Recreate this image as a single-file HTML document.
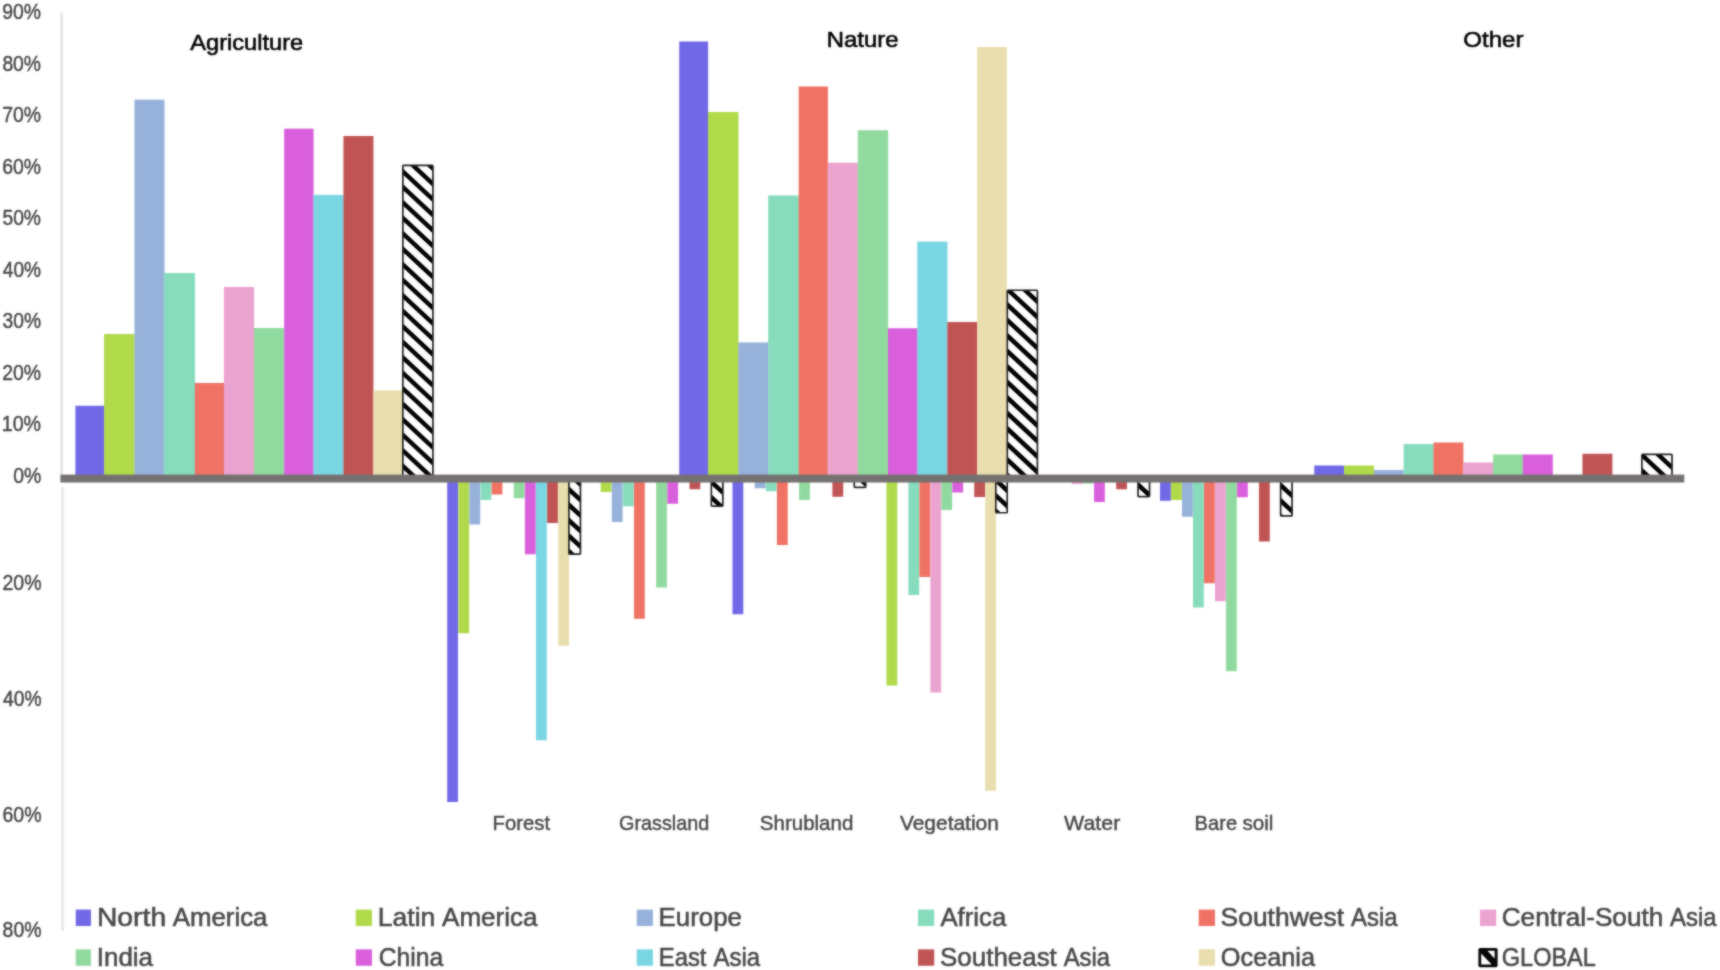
<!DOCTYPE html>
<html lang="en">
<head>
<meta charset="utf-8">
<title>Land cover change by region</title>
<style>
html,body{margin:0;padding:0;background:#fff;}
body{width:1720px;height:970px;overflow:hidden;}
svg{display:block;}
svg text{font-family:"Liberation Sans", Arial, sans-serif;}
</style>
</head>
<body>
<svg width="1720" height="970" viewBox="0 0 1720 970">
<defs>
<filter id="soft" filterUnits="userSpaceOnUse" x="0" y="0" width="1720" height="970" color-interpolation-filters="sRGB"><feGaussianBlur in="SourceGraphic" stdDeviation="0.8" result="b"/><feComposite in="SourceGraphic" in2="b" operator="arithmetic" k1="0" k2="0.45" k3="0.55" k4="0"/></filter>
</defs>
<rect width="1720" height="970" fill="#fff"/>
<g id="chart" filter="url(#soft)">
<rect x="60.40" y="12.50" width="2.50" height="462.50" fill="#E4E4E4"/>
<rect x="61.30" y="487.00" width="2.30" height="444.00" fill="#E4E4E4"/>
<g shape-rendering="geometricPrecision">
<rect x="75.40" y="405.75" width="28.85" height="73.25" fill="#7068E6"/>
<rect x="104.10" y="334.00" width="30.55" height="145.00" fill="#B0DA4A"/>
<rect x="134.50" y="99.70" width="30.00" height="379.30" fill="#96B1DA"/>
<rect x="164.35" y="273.00" width="30.65" height="206.00" fill="#86DCBC"/>
<rect x="194.85" y="383.00" width="29.20" height="96.00" fill="#F07265"/>
<rect x="223.90" y="287.00" width="30.20" height="192.00" fill="#EBA3CF"/>
<rect x="253.95" y="328.00" width="30.35" height="151.00" fill="#91DA9F"/>
<rect x="284.15" y="128.70" width="29.40" height="350.30" fill="#D95FDC"/>
<rect x="313.40" y="194.90" width="30.20" height="284.10" fill="#7AD6E3"/>
<rect x="343.45" y="136.00" width="30.00" height="343.00" fill="#C05455"/>
<rect x="373.30" y="390.50" width="29.65" height="88.50" fill="#E9DEAD"/>
<clipPath id="c1"><rect x="402.85" y="165.45" width="30.10" height="313.70"/></clipPath><rect x="402.85" y="165.45" width="30.10" height="313.70" fill="#fff"/><path clip-path="url(#c1)" fill="#000" d="M402.85,121.96L432.95,149.95L432.95,156.05L402.85,128.06ZM402.85,137.46L432.95,165.45L432.95,171.55L402.85,143.56ZM402.85,152.96L432.95,180.95L432.95,187.05L402.85,159.06ZM402.85,168.46L432.95,196.45L432.95,202.55L402.85,174.56ZM402.85,183.96L432.95,211.95L432.95,218.05L402.85,190.06ZM402.85,199.46L432.95,227.45L432.95,233.55L402.85,205.56ZM402.85,214.96L432.95,242.95L432.95,249.05L402.85,221.06ZM402.85,230.46L432.95,258.45L432.95,264.55L402.85,236.56ZM402.85,245.96L432.95,273.95L432.95,280.05L402.85,252.06ZM402.85,261.46L432.95,289.45L432.95,295.55L402.85,267.56ZM402.85,276.96L432.95,304.95L432.95,311.05L402.85,283.06ZM402.85,292.46L432.95,320.45L432.95,326.55L402.85,298.56ZM402.85,307.96L432.95,335.95L432.95,342.05L402.85,314.06ZM402.85,323.46L432.95,351.45L432.95,357.55L402.85,329.56ZM402.85,338.96L432.95,366.95L432.95,373.05L402.85,345.06ZM402.85,354.46L432.95,382.45L432.95,388.55L402.85,360.56ZM402.85,369.96L432.95,397.95L432.95,404.05L402.85,376.06ZM402.85,385.46L432.95,413.45L432.95,419.55L402.85,391.56ZM402.85,400.96L432.95,428.95L432.95,435.05L402.85,407.06ZM402.85,416.46L432.95,444.45L432.95,450.55L402.85,422.56ZM402.85,431.96L432.95,459.95L432.95,466.05L402.85,438.06ZM402.85,447.46L432.95,475.45L432.95,481.55L402.85,453.56ZM402.85,462.96L432.95,490.95L432.95,497.05L402.85,469.06ZM402.85,478.46L432.95,506.45L432.95,512.55L402.85,484.56ZM402.85,493.96L432.95,521.95L432.95,528.05L402.85,500.06Z"/><rect x="402.85" y="165.45" width="30.10" height="313.70" fill="none" stroke="#222" stroke-width="1.7" rx="0.8"/>
<rect x="679.25" y="41.50" width="28.85" height="437.50" fill="#7068E6"/>
<rect x="707.95" y="112.00" width="30.55" height="367.00" fill="#B0DA4A"/>
<rect x="738.35" y="342.50" width="30.00" height="136.50" fill="#96B1DA"/>
<rect x="768.20" y="195.50" width="30.65" height="283.50" fill="#86DCBC"/>
<rect x="798.70" y="86.50" width="29.20" height="392.50" fill="#F07265"/>
<rect x="827.75" y="162.75" width="30.20" height="316.25" fill="#EBA3CF"/>
<rect x="857.80" y="130.25" width="30.35" height="348.75" fill="#91DA9F"/>
<rect x="888.00" y="328.25" width="29.40" height="150.75" fill="#D95FDC"/>
<rect x="917.25" y="241.60" width="30.20" height="237.40" fill="#7AD6E3"/>
<rect x="947.30" y="322.00" width="30.00" height="157.00" fill="#C05455"/>
<rect x="977.15" y="47.00" width="29.65" height="432.00" fill="#E9DEAD"/>
<clipPath id="c2"><rect x="1007.30" y="290.25" width="30.10" height="188.90"/></clipPath><rect x="1007.30" y="290.25" width="30.10" height="188.90" fill="#fff"/><path clip-path="url(#c2)" fill="#000" d="M1007.30,239.61L1037.40,267.60L1037.40,273.70L1007.30,245.71ZM1007.30,255.11L1037.40,283.10L1037.40,289.20L1007.30,261.21ZM1007.30,270.61L1037.40,298.60L1037.40,304.70L1007.30,276.71ZM1007.30,286.11L1037.40,314.10L1037.40,320.20L1007.30,292.21ZM1007.30,301.61L1037.40,329.60L1037.40,335.70L1007.30,307.71ZM1007.30,317.11L1037.40,345.10L1037.40,351.20L1007.30,323.21ZM1007.30,332.61L1037.40,360.60L1037.40,366.70L1007.30,338.71ZM1007.30,348.11L1037.40,376.10L1037.40,382.20L1007.30,354.21ZM1007.30,363.61L1037.40,391.60L1037.40,397.70L1007.30,369.71ZM1007.30,379.11L1037.40,407.10L1037.40,413.20L1007.30,385.21ZM1007.30,394.61L1037.40,422.60L1037.40,428.70L1007.30,400.71ZM1007.30,410.11L1037.40,438.10L1037.40,444.20L1007.30,416.21ZM1007.30,425.61L1037.40,453.60L1037.40,459.70L1007.30,431.71ZM1007.30,441.11L1037.40,469.10L1037.40,475.20L1007.30,447.21ZM1007.30,456.61L1037.40,484.60L1037.40,490.70L1007.30,462.71ZM1007.30,472.11L1037.40,500.10L1037.40,506.20L1007.30,478.21ZM1007.30,487.61L1037.40,515.60L1037.40,521.70L1007.30,493.71Z"/><rect x="1007.30" y="290.25" width="30.10" height="188.90" fill="none" stroke="#222" stroke-width="1.7" rx="0.8"/>
<rect x="1314.25" y="465.50" width="29.95" height="13.50" fill="#7068E6"/>
<rect x="1344.05" y="465.50" width="29.95" height="13.50" fill="#B0DA4A"/>
<rect x="1373.85" y="470.00" width="29.95" height="9.00" fill="#96B1DA"/>
<rect x="1403.65" y="444.00" width="29.95" height="35.00" fill="#86DCBC"/>
<rect x="1433.45" y="442.50" width="29.95" height="36.50" fill="#F07265"/>
<rect x="1463.25" y="462.50" width="29.95" height="16.50" fill="#EBA3CF"/>
<rect x="1493.05" y="454.50" width="29.95" height="24.50" fill="#91DA9F"/>
<rect x="1522.85" y="454.50" width="29.95" height="24.50" fill="#D95FDC"/>
<rect x="1582.45" y="453.75" width="29.95" height="25.25" fill="#C05455"/>
<clipPath id="c3"><rect x="1641.90" y="454.35" width="30.10" height="24.80"/></clipPath><rect x="1641.90" y="454.35" width="30.10" height="24.80" fill="#fff"/><path clip-path="url(#c3)" fill="#000" d="M1641.90,405.42L1672.00,433.41L1672.00,439.51L1641.90,411.52ZM1641.90,420.92L1672.00,448.91L1672.00,455.01L1641.90,427.02ZM1641.90,436.42L1672.00,464.41L1672.00,470.51L1641.90,442.52ZM1641.90,451.92L1672.00,479.91L1672.00,486.01L1641.90,458.02ZM1641.90,467.42L1672.00,495.41L1672.00,501.51L1641.90,473.52ZM1641.90,482.92L1672.00,510.91L1672.00,517.01L1641.90,489.02Z"/><rect x="1641.90" y="454.35" width="30.10" height="24.80" fill="none" stroke="#222" stroke-width="1.7" rx="0.8"/>
<rect x="447.20" y="479.00" width="10.80" height="323.00" fill="#7068E6"/>
<rect x="458.30" y="479.00" width="10.80" height="154.25" fill="#B0DA4A"/>
<rect x="469.40" y="479.00" width="10.80" height="45.50" fill="#96B1DA"/>
<rect x="480.50" y="479.00" width="10.80" height="21.00" fill="#86DCBC"/>
<rect x="491.60" y="479.00" width="10.80" height="15.50" fill="#F07265"/>
<rect x="513.80" y="479.00" width="10.80" height="19.25" fill="#91DA9F"/>
<rect x="524.90" y="479.00" width="10.80" height="75.25" fill="#D95FDC"/>
<rect x="536.00" y="479.00" width="10.80" height="261.25" fill="#7AD6E3"/>
<rect x="547.10" y="479.00" width="10.80" height="44.00" fill="#C05455"/>
<rect x="558.20" y="479.00" width="10.80" height="166.75" fill="#E9DEAD"/>
<clipPath id="c4"><rect x="568.95" y="478.85" width="11.50" height="75.30"/></clipPath><rect x="568.95" y="478.85" width="11.50" height="75.30" fill="#fff"/><path clip-path="url(#c4)" fill="#000" d="M568.95,455.29L580.45,465.98L580.45,472.08L568.95,461.39ZM568.95,470.79L580.45,481.48L580.45,487.58L568.95,476.89ZM568.95,486.29L580.45,496.98L580.45,503.08L568.95,492.39ZM568.95,501.79L580.45,512.48L580.45,518.58L568.95,507.89ZM568.95,517.29L580.45,527.98L580.45,534.08L568.95,523.39ZM568.95,532.79L580.45,543.48L580.45,549.58L568.95,538.89ZM568.95,548.29L580.45,558.98L580.45,565.08L568.95,554.39ZM568.95,563.79L580.45,574.48L580.45,580.58L568.95,569.89Z"/><rect x="568.95" y="478.85" width="11.50" height="75.30" fill="none" stroke="#222" stroke-width="1.7" rx="0.8"/>
<rect x="600.70" y="479.00" width="10.80" height="13.00" fill="#B0DA4A"/>
<rect x="611.80" y="479.00" width="10.80" height="43.00" fill="#96B1DA"/>
<rect x="622.90" y="479.00" width="10.80" height="27.25" fill="#86DCBC"/>
<rect x="634.00" y="479.00" width="10.80" height="139.75" fill="#F07265"/>
<rect x="656.20" y="479.00" width="10.80" height="108.50" fill="#91DA9F"/>
<rect x="667.30" y="479.00" width="10.80" height="24.75" fill="#D95FDC"/>
<rect x="689.50" y="479.00" width="10.80" height="10.25" fill="#C05455"/>
<clipPath id="c5"><rect x="711.35" y="478.85" width="11.50" height="27.30"/></clipPath><rect x="711.35" y="478.85" width="11.50" height="27.30" fill="#fff"/><path clip-path="url(#c5)" fill="#000" d="M711.35,447.80L722.85,458.49L722.85,464.59L711.35,453.90ZM711.35,463.30L722.85,473.99L722.85,480.09L711.35,469.40ZM711.35,478.80L722.85,489.49L722.85,495.59L711.35,484.90ZM711.35,494.30L722.85,504.99L722.85,511.09L711.35,500.40ZM711.35,509.80L722.85,520.49L722.85,526.59L711.35,515.90Z"/><rect x="711.35" y="478.85" width="11.50" height="27.30" fill="none" stroke="#222" stroke-width="1.7" rx="0.8"/>
<rect x="732.50" y="479.00" width="10.80" height="135.25" fill="#7068E6"/>
<rect x="754.70" y="479.00" width="10.80" height="9.25" fill="#96B1DA"/>
<rect x="765.80" y="479.00" width="10.80" height="12.25" fill="#86DCBC"/>
<rect x="776.90" y="479.00" width="10.80" height="66.00" fill="#F07265"/>
<rect x="799.10" y="479.00" width="10.80" height="21.00" fill="#91DA9F"/>
<rect x="832.40" y="479.00" width="10.80" height="17.75" fill="#C05455"/>
<clipPath id="c6"><rect x="854.25" y="478.85" width="11.50" height="8.50"/></clipPath><rect x="854.25" y="478.85" width="11.50" height="8.50" fill="#fff"/><path clip-path="url(#c6)" fill="#000" d="M854.25,455.03L865.75,465.73L865.75,471.83L854.25,461.13ZM854.25,470.53L865.75,481.23L865.75,487.33L854.25,476.63ZM854.25,486.03L865.75,496.73L865.75,502.83L854.25,492.13ZM854.25,501.53L865.75,512.23L865.75,518.33L854.25,507.63Z"/><rect x="854.25" y="478.85" width="11.50" height="8.50" fill="none" stroke="#222" stroke-width="1.7" rx="0.8"/>
<rect x="886.47" y="479.00" width="10.80" height="206.50" fill="#B0DA4A"/>
<rect x="908.41" y="479.00" width="10.80" height="116.00" fill="#86DCBC"/>
<rect x="919.38" y="479.00" width="10.80" height="98.00" fill="#F07265"/>
<rect x="930.35" y="479.00" width="10.80" height="213.50" fill="#EBA3CF"/>
<rect x="941.32" y="479.00" width="10.80" height="31.00" fill="#91DA9F"/>
<rect x="952.29" y="479.00" width="10.80" height="13.50" fill="#D95FDC"/>
<rect x="974.23" y="479.00" width="10.80" height="18.00" fill="#C05455"/>
<rect x="985.20" y="479.00" width="10.80" height="311.75" fill="#E9DEAD"/>
<clipPath id="c7"><rect x="995.82" y="478.85" width="11.37" height="33.90"/></clipPath><rect x="995.82" y="478.85" width="11.37" height="33.90" fill="#fff"/><path clip-path="url(#c7)" fill="#000" d="M995.82,445.95L1007.19,456.53L1007.19,462.63L995.82,452.05ZM995.82,461.45L1007.19,472.03L1007.19,478.13L995.82,467.55ZM995.82,476.95L1007.19,487.53L1007.19,493.63L995.82,483.05ZM995.82,492.45L1007.19,503.03L1007.19,509.13L995.82,498.55ZM995.82,507.95L1007.19,518.53L1007.19,524.63L995.82,514.05ZM995.82,523.45L1007.19,534.03L1007.19,540.13L995.82,529.55Z"/><rect x="995.82" y="478.85" width="11.37" height="33.90" fill="none" stroke="#222" stroke-width="1.7" rx="0.8"/>
<rect x="1071.80" y="479.00" width="10.80" height="5.00" fill="#EBA3CF"/>
<rect x="1082.90" y="479.00" width="10.80" height="4.60" fill="#91DA9F"/>
<rect x="1094.00" y="479.00" width="10.80" height="23.00" fill="#D95FDC"/>
<rect x="1116.20" y="479.00" width="10.80" height="10.30" fill="#C05455"/>
<clipPath id="c8"><rect x="1138.05" y="478.85" width="11.50" height="17.70"/></clipPath><rect x="1138.05" y="478.85" width="11.50" height="17.70" fill="#fff"/><path clip-path="url(#c8)" fill="#000" d="M1138.05,450.59L1149.55,461.28L1149.55,467.38L1138.05,456.69ZM1138.05,466.09L1149.55,476.78L1149.55,482.88L1138.05,472.19ZM1138.05,481.59L1149.55,492.28L1149.55,498.38L1138.05,487.69ZM1138.05,497.09L1149.55,507.78L1149.55,513.88L1138.05,503.19ZM1138.05,512.59L1149.55,523.28L1149.55,529.38L1138.05,518.69Z"/><rect x="1138.05" y="478.85" width="11.50" height="17.70" fill="none" stroke="#222" stroke-width="1.7" rx="0.8"/>
<rect x="1160.00" y="479.00" width="10.80" height="21.80" fill="#7068E6"/>
<rect x="1171.00" y="479.00" width="10.80" height="21.00" fill="#B0DA4A"/>
<rect x="1182.00" y="479.00" width="10.80" height="37.70" fill="#96B1DA"/>
<rect x="1193.00" y="479.00" width="10.80" height="128.50" fill="#86DCBC"/>
<rect x="1204.00" y="479.00" width="10.80" height="104.25" fill="#F07265"/>
<rect x="1215.00" y="479.00" width="10.80" height="122.25" fill="#EBA3CF"/>
<rect x="1226.00" y="479.00" width="10.80" height="192.25" fill="#91DA9F"/>
<rect x="1237.00" y="479.00" width="10.80" height="18.20" fill="#D95FDC"/>
<rect x="1259.00" y="479.00" width="10.80" height="62.50" fill="#C05455"/>
<clipPath id="c9"><rect x="1280.65" y="478.85" width="11.40" height="37.10"/></clipPath><rect x="1280.65" y="478.85" width="11.40" height="37.10" fill="#fff"/><path clip-path="url(#c9)" fill="#000" d="M1280.65,451.11L1292.05,461.71L1292.05,467.81L1280.65,457.21ZM1280.65,466.61L1292.05,477.21L1292.05,483.31L1280.65,472.71ZM1280.65,482.11L1292.05,492.71L1292.05,498.81L1280.65,488.21ZM1280.65,497.61L1292.05,508.21L1292.05,514.31L1280.65,503.71ZM1280.65,513.11L1292.05,523.71L1292.05,529.81L1280.65,519.21ZM1280.65,528.61L1292.05,539.21L1292.05,545.31L1280.65,534.71Z"/><rect x="1280.65" y="478.85" width="11.40" height="37.10" fill="none" stroke="#222" stroke-width="1.7" rx="0.8"/>
</g>
<rect x="60.40" y="474.60" width="1623.90" height="7.90" fill="#767171"/>
<g>
<text y="19.10" font-size="21.3" fill="#474747" stroke="#474747" stroke-width="0.45" xml:space="preserve"><tspan x="2.28" textLength="38.73" lengthAdjust="spacingAndGlyphs">90%</tspan></text>
<text y="70.65" font-size="21.3" fill="#474747" stroke="#474747" stroke-width="0.45" xml:space="preserve"><tspan x="2.38" textLength="38.62" lengthAdjust="spacingAndGlyphs">80%</tspan></text>
<text y="122.20" font-size="21.3" fill="#474747" stroke="#474747" stroke-width="0.45" xml:space="preserve"><tspan x="2.18" textLength="38.83" lengthAdjust="spacingAndGlyphs">70%</tspan></text>
<text y="173.75" font-size="21.3" fill="#474747" stroke="#474747" stroke-width="0.45" xml:space="preserve"><tspan x="2.23" textLength="38.78" lengthAdjust="spacingAndGlyphs">60%</tspan></text>
<text y="225.30" font-size="21.3" fill="#474747" stroke="#474747" stroke-width="0.45" xml:space="preserve"><tspan x="2.43" textLength="38.57" lengthAdjust="spacingAndGlyphs">50%</tspan></text>
<text y="276.85" font-size="21.3" fill="#474747" stroke="#474747" stroke-width="0.45" xml:space="preserve"><tspan x="2.77" textLength="38.23" lengthAdjust="spacingAndGlyphs">40%</tspan></text>
<text y="328.40" font-size="21.3" fill="#474747" stroke="#474747" stroke-width="0.45" xml:space="preserve"><tspan x="2.48" textLength="38.52" lengthAdjust="spacingAndGlyphs">30%</tspan></text>
<text y="379.95" font-size="21.3" fill="#474747" stroke="#474747" stroke-width="0.45" xml:space="preserve"><tspan x="2.23" textLength="38.78" lengthAdjust="spacingAndGlyphs">20%</tspan></text>
<text y="431.00" font-size="21.3" fill="#474747" stroke="#474747" stroke-width="0.45" xml:space="preserve"><tspan x="1.73" textLength="39.29" lengthAdjust="spacingAndGlyphs">10%</tspan></text>
<text y="483.00" font-size="21.3" fill="#474747" stroke="#474747" stroke-width="0.45" xml:space="preserve"><tspan x="13.22" textLength="28.11" lengthAdjust="spacingAndGlyphs">0%</tspan></text>
<text y="590.30" font-size="21.3" fill="#474747" stroke="#474747" stroke-width="0.45" xml:space="preserve"><tspan x="2.42" textLength="39.09" lengthAdjust="spacingAndGlyphs">20%</tspan></text>
<text y="705.80" font-size="21.3" fill="#474747" stroke="#474747" stroke-width="0.45" xml:space="preserve"><tspan x="2.97" textLength="38.54" lengthAdjust="spacingAndGlyphs">40%</tspan></text>
<text y="821.50" font-size="21.3" fill="#474747" stroke="#474747" stroke-width="0.45" xml:space="preserve"><tspan x="2.42" textLength="39.09" lengthAdjust="spacingAndGlyphs">60%</tspan></text>
<text y="937.00" font-size="21.3" fill="#474747" stroke="#474747" stroke-width="0.45" xml:space="preserve"><tspan x="2.57" textLength="38.94" lengthAdjust="spacingAndGlyphs">80%</tspan></text>
<text y="830.30" font-size="20.9" fill="#474747" stroke="#474747" stroke-width="0.45" xml:space="preserve"><tspan x="492.57" textLength="57.61" lengthAdjust="spacingAndGlyphs">Forest</tspan></text>
<text y="830.30" font-size="20.9" fill="#474747" stroke="#474747" stroke-width="0.45" xml:space="preserve"><tspan x="619.01" textLength="90.23" lengthAdjust="spacingAndGlyphs">Grassland</tspan></text>
<text y="830.30" font-size="20.9" fill="#474747" stroke="#474747" stroke-width="0.45" xml:space="preserve"><tspan x="759.83" textLength="93.49" lengthAdjust="spacingAndGlyphs">Shrubland</tspan></text>
<text y="830.30" font-size="20.9" fill="#474747" stroke="#474747" stroke-width="0.45" xml:space="preserve"><tspan x="899.90" textLength="99.00" lengthAdjust="spacingAndGlyphs">Vegetation</tspan></text>
<text y="830.30" font-size="20.9" fill="#474747" stroke="#474747" stroke-width="0.45" xml:space="preserve"><tspan x="1064.14" textLength="56.18" lengthAdjust="spacingAndGlyphs">Water</tspan></text>
<text y="830.30" font-size="20.9" fill="#474747" stroke="#474747" stroke-width="0.45" xml:space="preserve"><tspan x="1194.59" textLength="42.52" lengthAdjust="spacingAndGlyphs">Bare</tspan> <tspan x="1242.43" textLength="30.97" lengthAdjust="spacingAndGlyphs">soil</tspan></text>
<text y="49.80" font-size="22.7" fill="#000" stroke="#000" stroke-width="0.6" xml:space="preserve"><tspan x="190.34" textLength="112.86" lengthAdjust="spacingAndGlyphs">Agriculture</tspan></text>
<text y="46.90" font-size="22.7" fill="#000" stroke="#000" stroke-width="0.6" xml:space="preserve"><tspan x="826.78" textLength="71.78" lengthAdjust="spacingAndGlyphs">Nature</tspan></text>
<text y="46.90" font-size="22.7" fill="#000" stroke="#000" stroke-width="0.6" xml:space="preserve"><tspan x="1463.36" textLength="60.03" lengthAdjust="spacingAndGlyphs">Other</tspan></text>
<rect x="75.75" y="909.60" width="15.20" height="16.40" fill="#7068E6"/>
<text y="925.75" font-size="26.3" fill="#474747" stroke="#474747" stroke-width="0.55" xml:space="preserve"><tspan x="96.91" textLength="69.23" lengthAdjust="spacingAndGlyphs">North</tspan> <tspan x="172.63" textLength="94.89" lengthAdjust="spacingAndGlyphs">America</tspan></text>
<rect x="355.75" y="909.60" width="16.20" height="16.40" fill="#B0DA4A"/>
<text y="925.75" font-size="26.3" fill="#474747" stroke="#474747" stroke-width="0.55" xml:space="preserve"><tspan x="377.81" textLength="57.58" lengthAdjust="spacingAndGlyphs">Latin</tspan> <tspan x="442.04" textLength="95.42" lengthAdjust="spacingAndGlyphs">America</tspan></text>
<rect x="636.75" y="909.60" width="16.20" height="16.40" fill="#96B1DA"/>
<text y="925.75" font-size="26.3" fill="#474747" stroke="#474747" stroke-width="0.55" xml:space="preserve"><tspan x="658.62" textLength="83.28" lengthAdjust="spacingAndGlyphs">Europe</tspan></text>
<rect x="918.00" y="909.60" width="16.20" height="16.40" fill="#86DCBC"/>
<text y="925.75" font-size="26.3" fill="#474747" stroke="#474747" stroke-width="0.55" xml:space="preserve"><tspan x="940.44" textLength="65.85" lengthAdjust="spacingAndGlyphs">Africa</tspan></text>
<rect x="1198.75" y="909.60" width="16.20" height="16.40" fill="#F07265"/>
<text y="925.75" font-size="26.3" fill="#474747" stroke="#474747" stroke-width="0.55" xml:space="preserve"><tspan x="1220.56" textLength="123.54" lengthAdjust="spacingAndGlyphs">Southwest</tspan> <tspan x="1350.99" textLength="46.53" lengthAdjust="spacingAndGlyphs">Asia</tspan></text>
<rect x="1480.00" y="909.60" width="16.20" height="16.40" fill="#EBA3CF"/>
<text y="925.75" font-size="26.3" fill="#474747" stroke="#474747" stroke-width="0.55" xml:space="preserve"><tspan x="1501.69" textLength="161.68" lengthAdjust="spacingAndGlyphs">Central-South</tspan> <tspan x="1669.99" textLength="46.54" lengthAdjust="spacingAndGlyphs">Asia</tspan></text>
<rect x="75.75" y="949.35" width="15.20" height="16.40" fill="#91DA9F"/>
<text y="965.60" font-size="26.3" fill="#474747" stroke="#474747" stroke-width="0.55" xml:space="preserve"><tspan x="96.85" textLength="56.17" lengthAdjust="spacingAndGlyphs">India</tspan></text>
<rect x="355.75" y="949.35" width="16.20" height="16.40" fill="#D95FDC"/>
<text y="965.60" font-size="26.3" fill="#474747" stroke="#474747" stroke-width="0.55" xml:space="preserve"><tspan x="378.77" textLength="64.49" lengthAdjust="spacingAndGlyphs">China</tspan></text>
<rect x="636.75" y="949.35" width="16.20" height="16.40" fill="#7AD6E3"/>
<text y="965.60" font-size="26.3" fill="#474747" stroke="#474747" stroke-width="0.55" xml:space="preserve"><tspan x="658.78" textLength="47.72" lengthAdjust="spacingAndGlyphs">East</tspan> <tspan x="713.43" textLength="46.63" lengthAdjust="spacingAndGlyphs">Asia</tspan></text>
<rect x="918.00" y="949.35" width="16.20" height="16.40" fill="#C05455"/>
<text y="965.60" font-size="26.3" fill="#474747" stroke="#474747" stroke-width="0.55" xml:space="preserve"><tspan x="940.08" textLength="116.76" lengthAdjust="spacingAndGlyphs">Southeast</tspan> <tspan x="1063.67" textLength="46.35" lengthAdjust="spacingAndGlyphs">Asia</tspan></text>
<rect x="1198.75" y="949.35" width="16.20" height="16.40" fill="#E9DEAD"/>
<text y="965.60" font-size="26.3" fill="#474747" stroke="#474747" stroke-width="0.55" xml:space="preserve"><tspan x="1220.80" textLength="94.26" lengthAdjust="spacingAndGlyphs">Oceania</tspan></text>
<rect x="1478.4" y="948.0" width="19.2" height="19.2" rx="1.6" fill="#050505"/><polygon points="1481.2,953.6 1481.2,964.4 1491.6,964.4" fill="#fff"/><polygon points="1487.4,950.7 1494.6,950.7 1494.6,958.5" fill="#fff"/>
<text y="965.60" font-size="26.3" fill="#474747" stroke="#474747" stroke-width="0.55" xml:space="preserve"><tspan x="1501.83" textLength="93.99" lengthAdjust="spacingAndGlyphs">GLOBAL</tspan></text>
</g>
</g>
</svg>
</body>
</html>
